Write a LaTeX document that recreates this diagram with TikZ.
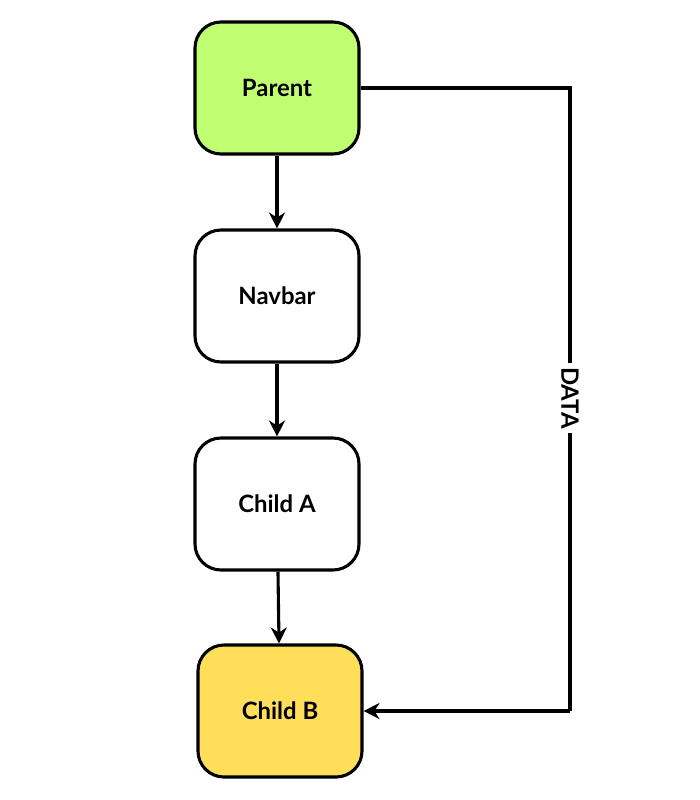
\documentclass[tikz,border=0pt]{standalone}
\usepackage{fontspec}
\setmainfont{Lato}
\usetikzlibrary{arrows.meta,positioning}
\definecolor{parentgreen}{HTML}{C1FF72}
\definecolor{childyellow}{HTML}{FFDE59}

\begin{document}
\begin{tikzpicture}[
  box/.style={draw, line width=2.2pt, rounded corners=0.65cm, fill=white, minimum width=4.1cm, minimum height=3.3cm, align=center, font=\fontsize{17}{20}\selectfont\bfseries},
  arr/.style={-{Stealth[length=4mm,width=4mm]}, line width=2.2pt},
  wire/.style={line width=2.2pt}
]
\useasboundingbox (0,0) rectangle (17.5,-20);

% Chain of components
\node[box, fill=parentgreen] (parent) at (6.925,-2.2) {Parent};
\node[box] (navbar) at (6.925,-7.4) {Navbar};
\node[box] (childa) at (6.925,-12.6) {Child A};
\node[box, fill=childyellow] (childb) at (7.0,-17.775) {Child B};

% Arrows
\draw[arr] (parent) -- (navbar);
\draw[arr] (navbar) -- (childa);
\draw[arr] (childa) -- (childb);

% Data route
\coordinate (topright) at (14.25,-2.2);
\coordinate (botright) at (14.25,-17.775);
\draw[wire] (parent.east) -- (topright) -- (botright);
\draw[arr] (botright) -- (childb.east);
\node[fill=white, rotate=-90, inner sep=3pt, font=\fontsize{17}{20}\selectfont\bfseries] (data) at (14.25,-9.95) {DATA};
\end{tikzpicture}
\end{document}
